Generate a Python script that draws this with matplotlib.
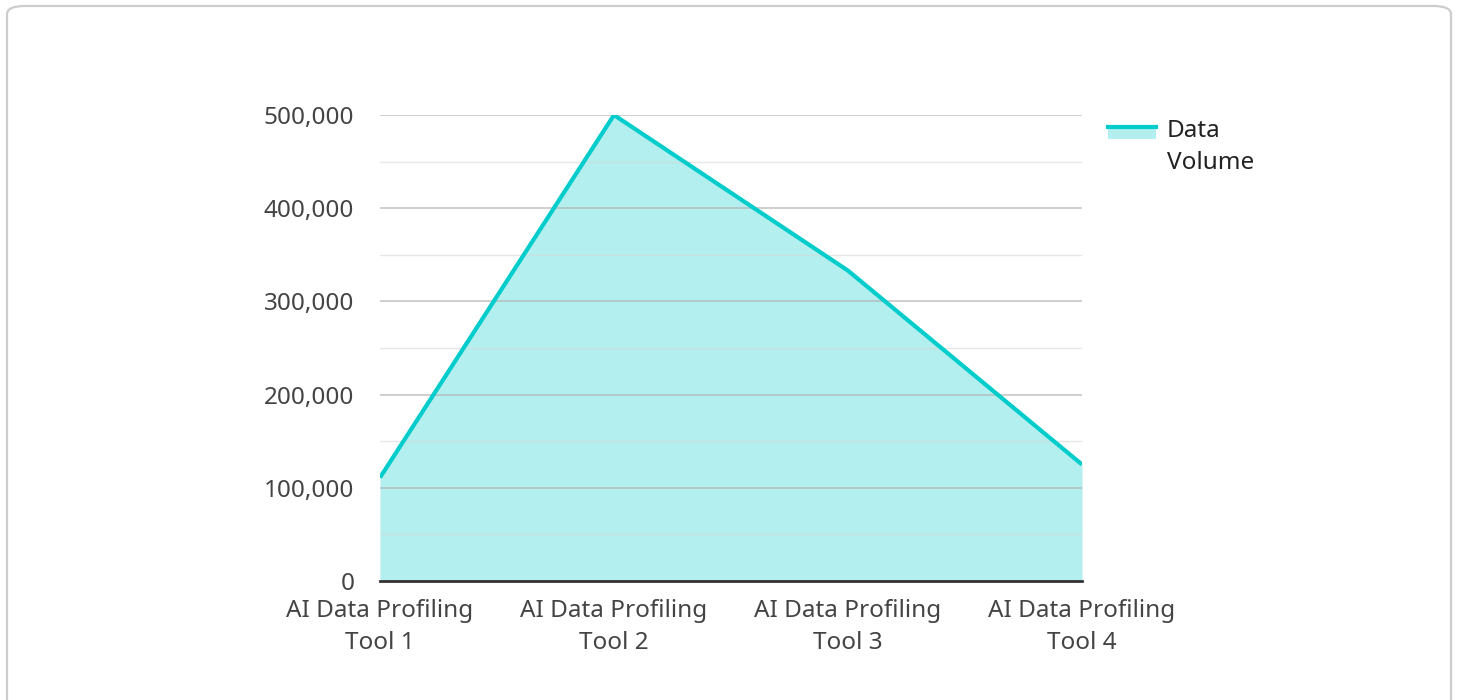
import matplotlib.pyplot as plt
from matplotlib.patches import FancyBboxPatch, Rectangle
from matplotlib.lines import Line2D
from matplotlib.ticker import FuncFormatter, MultipleLocator

plt.rcParams['font.family'] = ['Noto Sans', 'DejaVu Sans']

# Data
tools = ['AI Data Profiling\nTool 1', 'AI Data Profiling\nTool 2',
         'AI Data Profiling\nTool 3', 'AI Data Profiling\nTool 4']
data_volume = [111000, 500000, 333000, 125000]

line_color = '#00cccc'
fill_color = '#b2efee'
text_color = '#444444'
fs = 17.5

fig = plt.figure(figsize=(14.58, 7), dpi=100)

# rounded card border
card = FancyBboxPatch((7 / 1458, -20 / 700), 1444 / 1458, 714 / 700,
                      boxstyle='round,pad=0,rounding_size=0.012',
                      transform=fig.transFigure, facecolor='white',
                      edgecolor='#cccccc', linewidth=1.6, zorder=0)
fig.add_artist(card)

ax = fig.add_axes([380 / 1458, 1 - 581 / 700, 702 / 1458, 466 / 700])
ax.set_facecolor('none')

x = list(range(len(tools)))
ax.fill_between(x, data_volume, 0, color=fill_color, linewidth=0, zorder=2)
ax.plot(x, data_volume, color=line_color, linewidth=3, zorder=3,
        solid_capstyle='butt', solid_joinstyle='miter')

ax.set_xlim(0, 3)
ax.set_ylim(0, 500000)
ax.yaxis.set_major_locator(MultipleLocator(100000))
ax.yaxis.set_minor_locator(MultipleLocator(50000))
ax.yaxis.set_major_formatter(FuncFormatter(lambda v, p: f'{int(v):,}'))
ax.grid(axis='y', which='major', color='#b0b0b0', linewidth=1.2, alpha=0.7, zorder=4)
ax.grid(axis='y', which='minor', color='#d8d8d8', linewidth=1, alpha=0.6, zorder=4)
ax.set_axisbelow(False)

ax.set_xticks(x)
ax.set_xticklabels(tools, linespacing=1.43)
ax.tick_params(axis='both', which='both', length=0, labelsize=fs, labelcolor=text_color)
ax.tick_params(axis='x', pad=13)
ax.tick_params(axis='y', pad=18.5)
for lbl in ax.get_yticklabels():
    lbl.set_horizontalalignment('right')

for s in ['left', 'right', 'top']:
    ax.spines[s].set_visible(False)
ax.spines['bottom'].set_color('#333333')
ax.spines['bottom'].set_linewidth(2)
ax.spines['bottom'].set_zorder(5)

# legend
fig.add_artist(Rectangle((1108 / 1458, 1 - 139 / 700), 48 / 1458, 13 / 700,
                         transform=fig.transFigure, facecolor=fill_color,
                         edgecolor='none'))
fig.add_artist(Line2D([1108 / 1458, 1156 / 1458], [1 - 127 / 700, 1 - 127 / 700],
                      transform=fig.transFigure, color=line_color, linewidth=3))
fig.text(1167 / 1458, 1 - 137 / 700, 'Data', fontsize=fs, color='#222222',
         va='baseline', ha='left')
fig.text(1167 / 1458, 1 - 169 / 700, 'Volume', fontsize=fs, color='#222222',
         va='baseline', ha='left')

fig.savefig('out.png', dpi=100)
